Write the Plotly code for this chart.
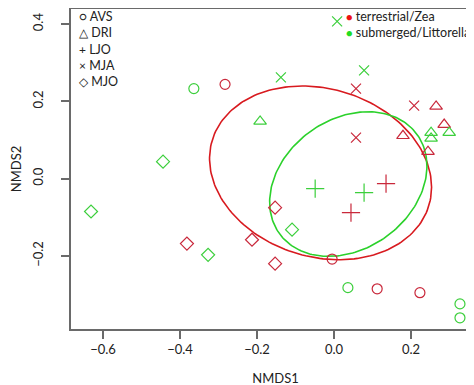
import numpy as np
import plotly.graph_objects as go

# ---------------- data ----------------
sites = ["AVS", "DRI", "LJO", "MJA", "MJO"]
groups = ["terrestrial/Zea", "submerged/Littorella"]

# terrestrial/Zea (red)
terr_x = {
    "AVS": [-0.283, -0.005, 0.112, 0.223],
    "DRI": [0.265, 0.286, 0.179, 0.244],
    "LJO": [0.135, 0.044],
    "MJA": [0.057, 0.208, 0.057],
    "MJO": [-0.153, -0.382, -0.213, -0.153],
}
terr_y = {
    "AVS": [0.244, -0.208, -0.285, -0.295],
    "DRI": [0.187, 0.140, 0.111, 0.070],
    "LJO": [-0.013, -0.088],
    "MJA": [0.233, 0.189, 0.106],
    "MJO": [-0.075, -0.168, -0.158, -0.220],
}
# submerged/Littorella (green)
subm_x = {
    "AVS": [-0.364, 0.036, 0.327, 0.327],
    "DRI": [-0.192, 0.252, 0.252, 0.299],
    "LJO": [-0.049, 0.078],
    "MJA": [0.008, -0.138, 0.078],
    "MJO": [-0.444, -0.631, -0.109, -0.327],
}
subm_y = {
    "AVS": [0.233, -0.282, -0.324, -0.360],
    "DRI": [0.148, 0.119, 0.104, 0.119],
    "LJO": [-0.026, -0.036],
    "MJA": [0.407, 0.262, 0.280],
    "MJO": [0.044, -0.085, -0.132, -0.197],
}

# ellipse parameters: centre and covariance (sxx, sxy, syy)
terr_ell = {"cx": -0.035, "cy": 0.015, "sxx": 0.0831, "sxy": -0.0107, "syy": 0.0505}
subm_ell = {"cx": 0.037, "cy": -0.014, "sxx": 0.0417, "sxy": 0.0095, "syy": 0.0350}

x_ticks = [-0.6, -0.4, -0.2, 0.0, 0.2]
y_ticks = [-0.2, 0.0, 0.2, 0.4]

# ---------------- styles ----------------
RED_PT = "#c9283b"
GREEN_PT = "#3ccf3c"
RED_EL = "#d81a1f"
GREEN_EL = "#2bd12b"
AXIS_C = "#6a6a6a"
FONT = "Lato"
TXT = "#222"

symbols = {
    "AVS": "circle-open",
    "DRI": "triangle-up-open",
    "LJO": "cross-thin-open",
    "MJA": "x-thin-open",
    "MJO": "diamond-open",
}
sizes = {"AVS": 10, "DRI": 11, "LJO": 13, "MJA": 10, "MJO": 10}


def ellipse(p, n=200):
    t = np.linspace(0, 2 * np.pi, n)
    l11 = np.sqrt(p["sxx"])
    l21 = p["sxy"] / l11
    l22 = np.sqrt(p["syy"] - l21 ** 2)
    return p["cx"] + l11 * np.cos(t), p["cy"] + l21 * np.cos(t) + l22 * np.sin(t)


fig = go.Figure()

for name, p, col in [(groups[0], terr_ell, RED_EL), (groups[1], subm_ell, GREEN_EL)]:
    ex, ey = ellipse(p)
    fig.add_trace(go.Scatter(x=ex, y=ey, mode="lines", line=dict(color=col, width=1.6),
                             showlegend=False, hoverinfo="skip", name=name + " ellipse"))

for gname, xs, ys, col in [(groups[0], terr_x, terr_y, RED_PT), (groups[1], subm_x, subm_y, GREEN_PT)]:
    for s in sites:
        fig.add_trace(go.Scatter(
            x=xs[s], y=ys[s], mode="markers", name=f"{s} {gname}",
            marker=dict(symbol=symbols[s], size=sizes[s], color=col,
                        line=dict(color=col, width=1.2)),
            showlegend=False))

# legends as text
site_glyph = {"AVS": "○", "DRI": "△", "LJO": "+", "MJA": "×", "MJO": "◇"}
left_lines = [f'<span style="font-size:12px">{site_glyph[s]}</span> {s}' for s in sites]
fig.add_annotation(xref="paper", yref="paper", x=0.014, y=1.006, xanchor="left", yanchor="top",
                   align="left", showarrow=False, text="<br>".join(left_lines),
                   font=dict(family=FONT, size=12.5, color=TXT))

right_lines = [f'<span style="font-size:11px;color:#ee1111">●</span> {groups[0]}',
               f'<span style="font-size:11px;color:#22dd22">●</span> {groups[1]}']
fig.add_annotation(xref="paper", yref="paper", x=0.668, y=1.006, xanchor="left", yanchor="top",
                   align="left", showarrow=False, text="<br>".join(right_lines),
                   font=dict(family=FONT, size=12.5, color=TXT))

axis_common = dict(showline=True, mirror=True, linecolor=AXIS_C, linewidth=1.5,
                   ticks="outside", ticklen=8, tickwidth=1.5, tickcolor=AXIS_C,
                   showgrid=False, zeroline=False, tickformat=".1f", automargin=False,
                   tickfont=dict(family=FONT, size=13, color=TXT))

fig.update_xaxes(range=[-0.683, 0.379], tickvals=x_ticks, ticklabelstandoff=0, **axis_common,
                 title=dict(text="NMDS1", standoff=18, font=dict(family=FONT, size=13, color=TXT)))
fig.update_yaxes(range=[-0.389, 0.439], tickvals=y_ticks, tickangle=-90, ticklabelstandoff=13,
                 **axis_common,
                 title=dict(text="NMDS2", standoff=20, font=dict(family=FONT, size=13, color=TXT)))

fig.update_layout(width=474, height=385, margin=dict(l=63, r=2, t=1, b=64),
                  plot_bgcolor="white", paper_bgcolor="white", showlegend=False,
                  font=dict(family=FONT, size=12.5, color=TXT))

fig.write_html("out.html")
